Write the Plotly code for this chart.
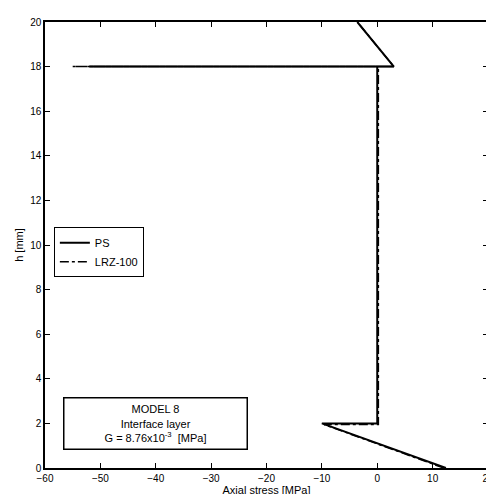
import plotly.graph_objects as go

# PS curve
ps_x = [12.4, -10, 0, 0, 3, -52, 3, -3.6]
ps_y = [0, 2, 2, 18, 18, 18, 18, 20]
# LRZ-100 curve
lrz_x = [12.0, -9.6, 0.2, 0.2, 3, -55, 3, -3.6]
lrz_y = [0, 1.95, 1.95, 18, 18, 18, 18, 20]

fig = go.Figure()
fig.add_trace(go.Scatter(x=ps_x, y=ps_y, mode="lines", name="PS",
                         line=dict(color="black", width=2)))
fig.add_trace(go.Scatter(x=lrz_x, y=lrz_y, mode="lines", name="LRZ-100",
                         line=dict(color="black", width=1.5, dash="dashdot")))

ax = dict(showgrid=False, zeroline=False, showline=True, mirror="ticks",
          linecolor="black", linewidth=1.5, ticks="inside", ticklen=5,
          tickcolor="black", tickfont=dict(size=10))
fig.update_xaxes(range=[-60, 20], dtick=10, title=dict(text="Axial stress [MPa]", standoff=0,
                 font=dict(size=11)), **ax)
fig.update_yaxes(range=[0, 20], dtick=2, title=dict(text="h [mm]", standoff=4,
                 font=dict(size=11)), **ax)

fig.add_annotation(x=0.04, y=0.1, xref="paper", yref="paper", showarrow=False,
                   text="MODEL 8<br>Interface layer<br>G = 8.76x10<sup>-3</sup>  [MPa]",
                   font=dict(size=11, color="black"), align="center",
                   bordercolor="black", borderwidth=1.5, bgcolor="white",
                   width=180, height=48, xanchor="left", yanchor="middle")

fig.update_layout(width=494, height=494, margin=dict(l=37, r=8, t=10, b=34),
                  plot_bgcolor="white", paper_bgcolor="white",
                  font=dict(family="Liberation Sans", color="black", size=11),
                  legend=dict(x=0.02, y=0.54, xanchor="left", yanchor="top",
                              bordercolor="black", borderwidth=1, bgcolor="white",
                              font=dict(size=11), tracegroupgap=0))
fig.write_html("out.html")
